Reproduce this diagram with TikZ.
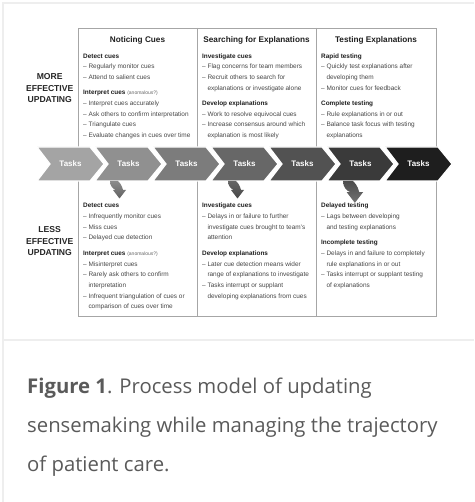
\documentclass[tikz,border=0pt]{standalone}
\usepackage{fontspec}
\setmainfont{Liberation Sans}
\newfontfamily\capfont{Open Sans}
\definecolor{ch1}{HTML}{A4A4A4}
\definecolor{ch2}{HTML}{909090}
\definecolor{ch3}{HTML}{7C7C7C}
\definecolor{ch4}{HTML}{676767}
\definecolor{ch5}{HTML}{525252}
\definecolor{ch6}{HTML}{3A3A3A}
\definecolor{ch7}{HTML}{1E1E1E}
\definecolor{framecol}{HTML}{EEEEEE}
\definecolor{gridcol}{HTML}{A6A6A6}
\definecolor{captext}{HTML}{5A5A5A}
\tikzset{
  frameline/.style={draw=framecol, line width=1.5pt},
  gridline/.style={draw=gridcol, line width=0.8pt},
  colhead/.style={font=\bfseries\fontsize{8.2}{9}\selectfont, text=black!88, anchor=base, inner sep=0pt},
  sub/.style={font=\bfseries\fontsize{6.4}{7}\selectfont, text=black!88, anchor=base west, inner sep=0pt},
  itm/.style={font=\fontsize{6.45}{7}\selectfont, text=black!72, anchor=base west, inner sep=0pt},
  side/.style={font=\bfseries\fontsize{8.6}{9}\selectfont, text=black!85, anchor=base, inner sep=0pt},
  chev/.style={draw=white, line width=1.2pt},
  tasks/.style={font=\bfseries\fontsize{8}{9}\selectfont, text=white, inner sep=0pt},
  captxt/.style={font=\capfont\fontsize{20.3}{24}\selectfont, text=captext, anchor=base west, inner sep=0pt},
}
\newcommand{\chevshape}[2]{%
  \fill[#2] (#1,147) -- ++(53,0) -- ++(14,17) -- ++(-14,17) -- ++(-53,0) -- ++(13,-17) -- cycle;
  \draw[chev] (#1,147) -- ++(53,0) -- ++(14,17) -- ++(-14,17) -- ++(-53,0) -- ++(13,-17) -- cycle;
}
\newcommand{\hookshape}[4]{%
  \begin{scope}[shift={(#1,181)}, scale=#2]
    \shade[top color=#3, bottom color=#4]
      (0,0) .. controls (0,5) and (3,8) .. (6,9) -- (3,9) -- (9.5,17.5) -- (16,9) -- (13,9)
      .. controls (12,4) and (9,1) .. (8,0) -- cycle;
  \end{scope}
}
\newcommand{\ind}{\hspace*{5.3pt}}
\begin{document}
\begin{tikzpicture}[x=1pt,y=-1pt]
\useasboundingbox (0,0) rectangle (474,502);
\fill[white] (0,0) rectangle (474,502);
% page frame
\draw[frameline] (474,3) -- (3,3) -- (3,502);
\draw[frameline] (3,340) -- (474,340);
% table grid
\draw[gridline] (78,28) rectangle (436,316);
\draw[gridline] (197,28) -- (197,316);
\draw[gridline] (316,28) -- (316,316);
% side labels
\node[side] (m1) at (49.7,80) {MORE};
\node[side] (m2) at (49.7,91.5) {EFFECTIVE};
\node[side] (m3) at (49.7,103) {UPDATING};
\node[side] (l1) at (49.7,232.3) {LESS};
\node[side] (l2) at (49.7,244) {EFFECTIVE};
\node[side] (l3) at (49.7,255.7) {UPDATING};
% column headers
\node[colhead] (h1) at (137.5,42.5) {Noticing Cues};
\node[colhead] (h2) at (256.5,42.5) {Searching for Explanations};
\node[colhead] (h3) at (376,42.5) {Testing Explanations};
% upper column 1
\node[sub] (a1) at (83,58.2) {Detect cues};
\node[itm] (a2) at (83,68.9) {– Regularly monitor cues};
\node[itm] (a3) at (83,79.5) {– Attend to salient cues};
\node[sub] (a4) at (83,94.9) {Interpret cues \mdseries\fontsize{5}{6}\selectfont\color{black!60}(anomalous?)};
\node[itm] (a5) at (83,105.5) {– Interpret cues accurately};
\node[itm] (a6) at (83,116.2) {– Ask others to confirm interpretation};
\node[itm] (a7) at (83,126.9) {– Triangulate cues};
\node[itm] (a8) at (83,137.5) {– Evaluate changes in cues over time};
% upper column 2
\node[sub] (b1) at (202,58.2) {Investigate cues};
\node[itm] (b2) at (202,68.9) {– Flag concerns for team members};
\node[itm] (b3) at (202,79.5) {– Recruit others to search for};
\node[itm] (b4) at (202,90.2) {\ind explanations or investigate alone};
\node[sub] (b5) at (202,105.5) {Develop explanations};
\node[itm] (b6) at (202,116.2) {– Work to resolve equivocal cues};
\node[itm] (b7) at (202,126.9) {– Increase consensus around which};
\node[itm] (b8) at (202,137.5) {\ind explanation is most likely};
% upper column 3
\node[sub] (c1) at (321,58.2) {Rapid testing};
\node[itm] (c2) at (321,68.9) {– Quickly test explanations after};
\node[itm] (c3) at (321,79.5) {\ind developing them};
\node[itm] (c4) at (321,90.2) {– Monitor cues for feedback};
\node[sub] (c5) at (321,105.5) {Complete testing};
\node[itm] (c6) at (321,116.2) {– Rule explanations in or out};
\node[itm] (c7) at (321,126.9) {– Balance task focus with testing};
\node[itm] (c8) at (321,137.5) {\ind explanations};
% lower column 1
\node[sub] (d1) at (83,208) {Detect cues};
\node[itm] (d2) at (83,218.7) {– Infrequently monitor cues};
\node[itm] (d3) at (83,229.3) {– Miss cues};
\node[itm] (d4) at (83,240) {– Delayed cue detection};
\node[sub] (d5) at (83,255.4) {Interpret cues \mdseries\fontsize{5}{6}\selectfont\color{black!60}(anomalous?)};
\node[itm] (d6) at (83,266) {– Misinterpret cues};
\node[itm] (d7) at (83,276.7) {– Rarely ask others to confirm};
\node[itm] (d8) at (83,287.4) {\ind interpretation};
\node[itm] (d9) at (83,298) {– Infrequent triangulation of cues or};
\node[itm] (d10) at (83,308.7) {\ind comparison of cues over time};
% lower column 2
\node[sub] (e1) at (202,208) {Investigate cues};
\node[itm] (e2) at (202,218.7) {– Delays in or failure to further};
\node[itm] (e3) at (202,229.3) {\ind investigate cues brought to team's};
\node[itm] (e4) at (202,240) {\ind attention};
\node[sub] (e5) at (202,255.4) {Develop explanations};
\node[itm] (e6) at (202,266) {– Later cue detection means wider};
\node[itm] (e7) at (202,276.7) {\ind range of explanations to investigate};
\node[itm] (e8) at (202,287.4) {– Tasks interrupt or supplant};
\node[itm] (e9) at (202,298) {\ind developing explanations from cues};
% lower column 3
\node[sub] (f1) at (321,208) {Delayed testing};
\node[itm] (f2) at (321,218.7) {– Lags between developing};
\node[itm] (f3) at (321,229.3) {\ind and testing explanations};
\node[sub] (f4) at (321,244.7) {Incomplete testing};
\node[itm] (f5) at (321,255.4) {– Delays in and failure to completely};
\node[itm] (f6) at (321,266) {\ind rule explanations in or out};
\node[itm] (f7) at (321,276.7) {– Tasks interrupt or supplant testing};
\node[itm] (f8) at (321,287.4) {\ind of explanations};
% chevrons
\chevshape{37}{ch1}
\chevshape{95}{ch2}
\chevshape{153}{ch3}
\chevshape{211}{ch4}
\chevshape{269}{ch5}
\chevshape{327}{ch6}
\chevshape{385}{ch7}
\node[tasks] (t1) at (70.5,164) {Tasks};
\node[tasks] (t2) at (128.5,164) {Tasks};
\node[tasks] (t3) at (186.5,164) {Tasks};
\node[tasks] (t4) at (244.5,164) {Tasks};
\node[tasks] (t5) at (302.5,164) {Tasks};
\node[tasks] (t6) at (360.5,164) {Tasks};
\node[tasks] (t7) at (418.5,164) {Tasks};
% curved arrows
\hookshape{110}{1}{black!45}{black!62}
\hookshape{228}{1}{black!60}{black!72}
\hookshape{343}{1.25}{black!70}{black!55}
% caption
\node[captxt] (cap1) at (27,393) {{\bfseries Figure 1}. Process model of updating};
\node[captxt] (cap2) at (27,432) {sensemaking while managing the trajectory};
\node[captxt] (cap3) at (27,471) {of patient care.};
\end{tikzpicture}
\end{document}
